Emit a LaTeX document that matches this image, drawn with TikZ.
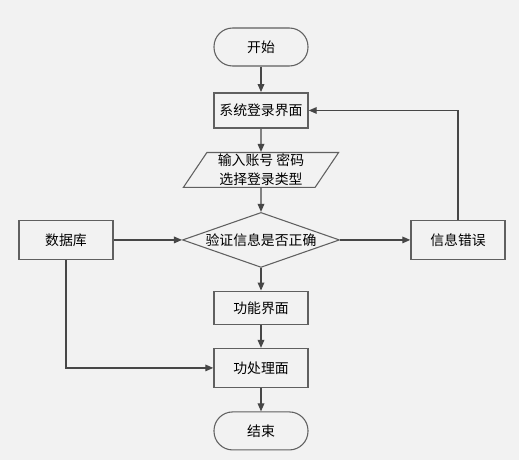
\documentclass[tikz,border=0pt]{standalone}
\usepackage{fontspec}
\setmainfont{Noto Sans CJK SC}
\usepackage{xcolor}
\usepackage{tikz}
\usetikzlibrary{shapes.geometric,arrows.meta}
\definecolor{bgcol}{HTML}{F2F2F2}
\definecolor{edgecol}{HTML}{606060}
\definecolor{linecol}{HTML}{474747}

\begin{document}
\begin{tikzpicture}[node distance=1cm, x=0.75pt, y=-0.75pt]
\tikzstyle{block} = [rectangle, draw=edgecol, line width=1.1pt, fill=bgcol, minimum width=70.5pt, minimum height=26.5pt, text centered, font=\fontsize{10.4}{13}\selectfont]
\tikzstyle{term} = [block, rounded corners=14pt, line width=0.8pt, minimum height=28.5pt]
\tikzstyle{io} = [trapezium, trapezium left angle=61, trapezium right angle=119, trapezium stretches=true, draw=edgecol, line width=0.8pt, fill=bgcol, minimum width=117pt, minimum height=25.5pt, inner sep=1pt, align=center, font=\fontsize{10.4}{14.5}\selectfont]
\tikzstyle{decision} = [diamond, aspect=2.85, draw=edgecol, line width=0.8pt, fill=bgcol, minimum width=117.75pt, minimum height=41.25pt, inner sep=0pt, font=\fontsize{10.4}{13}\selectfont]
\tikzstyle{arrow} = [line width=0.9pt, draw=linecol, ->, >={Triangle[length=6pt,width=5pt]}]

\fill[bgcol] (0,0) rectangle (519,460);

\node (start) [term] at (261,47) {开始};
\node (login) [block, below of=start, node distance=47.6pt] {系统登录界面};
\node (input) [io, below of=login, node distance=44.6pt] {输入账号 密码\\选择登录类型};
\node (check) [decision, below of=input, node distance=52.5pt] {验证信息是否正确};
\node (db) [block, left of=check, node distance=146.25pt, minimum height=29pt] {数据库};
\node (err) [block, right of=check, node distance=147.75pt, minimum height=29pt] {信息错误};
\node (func) [block, below of=check, node distance=51pt, minimum height=25pt] {功能界面};
\node (proc) [block, below of=func, node distance=45pt, minimum height=29pt] {功处理面};
\node (stop) [term, below of=proc, node distance=47.25pt] {结束};

\draw [arrow] (start) -- (login);
\draw [arrow] (login) -- (input);
\draw [arrow] (input) -- (check);
\draw [arrow] (db) -- (check);
\draw [arrow] (check) -- (err);
\draw [arrow] (err.north) |- (login.east);
\draw [arrow] (check) -- (func);
\draw [arrow] (func) -- (proc);
\draw [arrow] (db.south) |- (proc.west);
\draw [arrow] (proc) -- (stop);

\end{tikzpicture}
\end{document}
